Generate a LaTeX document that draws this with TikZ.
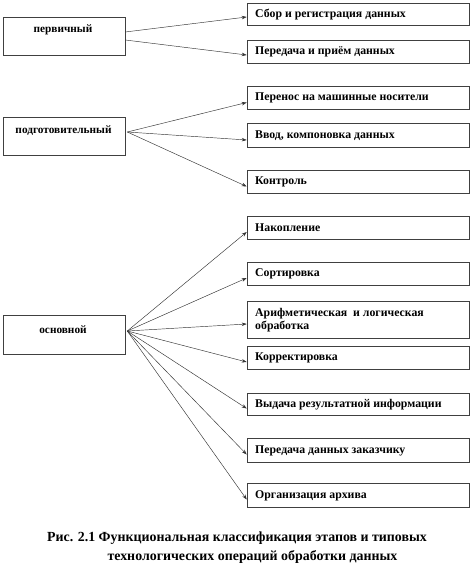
\documentclass[tikz,border=0pt]{standalone}
\usepackage{fontspec}
\setmainfont{Liberation Serif}
\usetikzlibrary{arrows.meta}
\begin{document}
\begin{tikzpicture}[x=1pt,y=-1pt,
  lbox/.style={draw=black!75,line width=0.6pt,minimum width=122pt,inner sep=0pt},
  rbox/.style={draw=black!75,line width=0.6pt,minimum width=222pt,inner sep=0pt},
  ltext/.style={font=\bfseries\fontsize{11.3}{14}\selectfont,inner sep=0pt},
  rtext/.style={font=\bfseries\fontsize{11.8}{13}\selectfont,inner sep=0pt,anchor=west,align=left},
  conn/.style={draw=black!80,line width=0.45pt,-{Stealth[length=5pt,width=3.5pt]}},
  captext/.style={font=\bfseries\fontsize{13.9}{18}\selectfont,inner sep=0pt}]
\useasboundingbox (0,0) rectangle (474,577);
\fill[white] (0,0) rectangle (474,577);
% left boxes
\node[lbox,minimum height=38pt] (p1) at (64,36) {};
\node[ltext] (t1) at (63,30) {первичный};
\node[lbox,minimum height=38pt] (p2) at (64,136) {};
\node[ltext] (t2) at (63.5,130.5) {подготовительный};
\node[lbox,minimum height=39pt] (p3) at (64,334.5) {};
\node[ltext] (t3) at (63,330) {основной};
% right boxes
\node[rbox,minimum height=22pt] (r1) at (358,14) {};
\node[rtext] at (255,14.5) {Сбор и регистрация данных};
\node[rbox,minimum height=23pt] (r2) at (358,51.5) {};
\node[rtext] at (255,52) {Передача и приём данных};
\node[rbox,minimum height=23pt] (r3) at (358,97.5) {};
\node[rtext] at (255,98) {Перенос на машинные носители};
\node[rbox,minimum height=24pt] (r4) at (358,135) {};
\node[rtext] at (255,135.5) {Ввод, компоновка данных};
\node[rbox,minimum height=23pt] (r5) at (358,181.5) {};
\node[rtext] at (255,182) {Контроль};
\node[rbox,minimum height=23pt] (r6) at (358,227.5) {};
\node[rtext] at (255,228) {Накопление};
\node[rbox,minimum height=23pt] (r7) at (358,273.5) {};
\node[rtext] at (255,274) {Сортировка};
\node[rbox,minimum height=37pt] (r8) at (358,319.5) {};
\node[rtext] at (255,320) {Арифметическая\ \ и логическая\\обработка};
\node[rbox,minimum height=23pt] (r9) at (358,357.5) {};
\node[rtext] at (255,358) {Корректировка};
\node[rbox,minimum height=22pt] (r10) at (358,404) {};
\node[rtext] at (255,404.5) {Выдача результатной информации};
\node[rbox,minimum height=24pt] (r11) at (358,450) {};
\node[rtext] at (255,450.5) {Передача данных заказчику};
\node[rbox,minimum height=24pt] (r12) at (358,495) {};
\node[rtext] at (255,495.5) {Организация архива};
% connectors
\draw[conn] ([yshift=4pt]p1.east) -- ([yshift=-3pt]r1.west);
\draw[conn] ([yshift=-4pt]p1.east) -- ([yshift=-3.5pt]r2.west);
\foreach \r in {r3,r4,r5}
  \draw[conn] ([yshift=4pt,xshift=2pt]p2.east) -- ([yshift=-5pt]\r.west);
\foreach \r in {r6,r7,r8,r9,r10,r11,r12}
  \draw[conn] ([yshift=3.5pt,xshift=2pt]p3.east) -- ([yshift=-4.5pt]\r.west);
% caption
\node[captext] (c1) at (237,538) {Рис. 2.1 Функциональная классификация этапов и типовых};
\node[captext] (c2) at (252.5,557) {технологических операций обработки данных};
\end{tikzpicture}
\end{document}
